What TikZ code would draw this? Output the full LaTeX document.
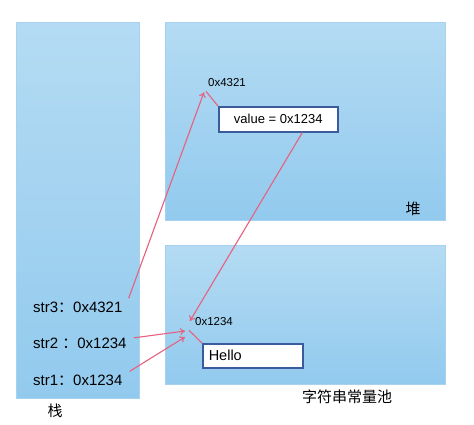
\documentclass[tikz,border=0pt]{standalone}
\usepackage{fontspec}
\setmainfont{Liberation Sans}
\newfontfamily\cjk{Noto Sans CJK SC}
\usepackage{tikz}
\usetikzlibrary{calc, arrows.meta}

\definecolor{areatop}{HTML}{B4DBF3}
\definecolor{areabottom}{HTML}{92CAEE}
\definecolor{areaedge}{HTML}{A6D2F0}
\definecolor{boxedge}{HTML}{3A5C9C}
\definecolor{pointer}{HTML}{E8607E}

\tikzset{
	area/.style = {draw = areaedge, line width = 1pt, top color = areatop, bottom color = areabottom, anchor = north west, inner sep = 0pt},
	membox/.style = {draw = boxedge, line width = 1.5pt, fill = white, anchor = north west, inner sep = 0pt, font = \fontsize{13}{15}\selectfont},
	addr/.style = {inner sep = 2pt, font = \fontsize{11.5}{13}\selectfont},
	entry/.style = {anchor = base west, inner sep = 2pt, font = \fontsize{15}{18}\selectfont},
	zone/.style = {inner sep = 0pt, font = \cjk\fontsize{15}{18}\selectfont},
	ptr/.style = {draw = pointer, line width = 1.1pt, -{To[length = 5pt, width = 7pt]}},
	tick/.style = {draw = pointer, line width = 1.1pt}
}

\begin{document}
	\begin{tikzpicture}[x = 1pt, y = -1pt]
		\useasboundingbox [fill = white] (0,0) rectangle (474,424);
		
		\begin{scope}
			\node [area, minimum width = 123pt, minimum height = 376pt] (stack) at (16,22) {};
			\node [area, minimum width = 280pt, minimum height = 198pt] (heap) at (165,22) {};
			\node [area, minimum width = 280pt, minimum height = 139pt] (pool) at (165,245) {};
		\end{scope}
		
		\begin{scope}
			\node [membox, minimum width = 119pt, minimum height = 25pt] (value) at (218,106) {value = 0x1234};
			\node [membox, minimum height = 24pt, text width = 88pt, inner xsep = 6pt, align = left, font = \fontsize{14.5}{17}\selectfont] (hello) at (202,343) {Hello};
		\end{scope}
		
		\begin{scope}
			\node [addr] (heapaddr) at (227,83) {0x4321};
			\node [addr] (pooladdr) at (214,322) {0x1234};
		\end{scope}
		
		\begin{scope}
			\node [entry] (str3) at (31,312) {str3{\cjk ：}0x4321};
			\node [entry] (str2) at (31,348) {str2 {\cjk ：}0x1234};
			\node [entry] (str1) at (31,385) {str1{\cjk ：}0x1234};
		\end{scope}
		
		\begin{scope}
			\node [zone] (heapname) at (413,209) {堆};
			\node [zone] (poolname) at (347,397) {字符串常量池};
			\node [zone] (stackname) at (55,411) {栈};
		\end{scope}
		
		\begin{scope}
			\coordinate (hittwo) at (185,331);
			\coordinate (hitone) at (185,337);
			\draw [ptr] ([shift = {(4,-1)}]str3.north east) -- ([shift = {(-2,3)}]heapaddr.south west);
			\draw [tick] ([shift = {(0,2)}]heapaddr.south west) -- (value.north west);
			\draw [ptr] ($(value.south west)!0.7!(value.south east)$) -- ([shift = {(-3,-1)}]pooladdr.west);
			\draw [tick] ([shift = {(-4,2)}]pooladdr.south west) -- (hello.north west);
			\draw [ptr] ([shift = {(5,-5)}]str2.east) -- (hittwo);
			\draw [ptr] ([shift = {(5,-1)}]str1.north east) -- (hitone);
		\end{scope}
	\end{tikzpicture}
\end{document}
